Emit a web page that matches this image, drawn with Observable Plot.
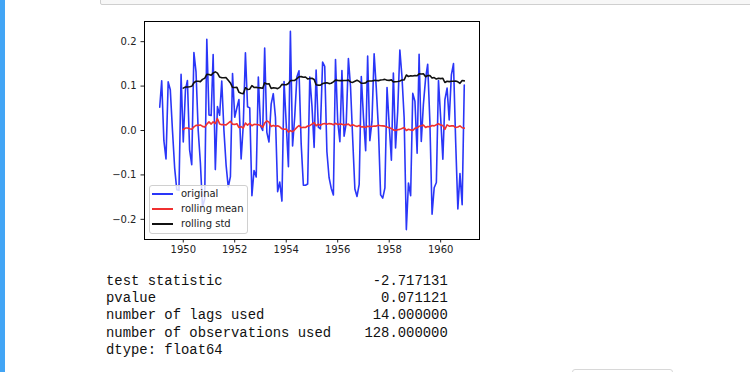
<!DOCTYPE html>
<html><head><meta charset="utf-8">
<script src="https://cdn.jsdelivr.net/npm/d3@7"></script>
<script src="https://cdn.jsdelivr.net/npm/@observablehq/plot@0.6"></script>
<style>
html,body{margin:0;padding:0;background:#fff;}
body{width:750px;height:372px;overflow:hidden;position:relative;font-family:"DejaVu Sans",sans-serif;}
#bar{position:absolute;left:0;top:0;width:5px;height:372px;background:#42a5f5;}
#prev{position:absolute;left:100px;top:-6px;width:670px;height:9px;background:#f7f7f7;border:1px solid #cfcfcf;border-radius:2px;}
#chart{position:absolute;left:0;top:0;}
#legend{position:absolute;left:149px;top:185px;width:97px;height:47px;border:1px solid #d0d0d0;border-radius:3px;background:rgba(255,255,255,0.8);}
.sw{position:absolute;left:2px;width:21px;height:2px;}
.lab{position:absolute;left:31px;height:12px;line-height:12px;font-size:10px;color:#222;white-space:nowrap;}
#out{position:absolute;left:106px;top:273px;margin:0;font:13.9px/17.2px "Liberation Mono",monospace;color:#111;}
#btn{position:absolute;left:572px;top:369px;width:99px;height:12px;border:1px solid #d8d8d8;border-radius:3px;background:#fff;}
</style></head>
<body>
<div id="bar"></div>
<div id="prev"></div>
<div id="chart"></div>
<div id="legend"></div>
<pre id="out"></pre>
<div id="btn"></div>
<script>
// First difference of log monthly airline passengers, Feb 1949 .. Dec 1960
const startYear = 1949, startMonth = 2;
const values = [
  0.0522, 0.1121, -0.0230, -0.0640, 0.1095, 0.0919, 0, -0.0846, -0.1335, -0.1347, 0.1263,
  -0.0257, 0.0914, 0.1125, -0.0435, -0.0770, 0.1756, 0.1319, 0, -0.0732, -0.1723, -0.1542, 0.2054,
  0.0351, 0.0339, 0.1712, -0.0880, 0.0537, 0.0343, 0.1115, 0, -0.0784, -0.1273, -0.1040, 0.1284,
  0.0297, 0.0513, 0.0697, -0.0642, 0.0110, 0.1750, 0.0536, 0.0509, -0.1466, -0.0901, -0.1048, 0.1204,
  0.0103, 0, 0.1857, -0.0042, -0.0259, 0.0593, 0.0829, 0.0299, -0.1377, -0.1162, -0.1589, 0.1104,
  0.0148, -0.0817, 0.2231, -0.0346, 0.0304, 0.1206, 0.1345, -0.0302, -0.1233, -0.1231, -0.1205, 0.1205,
  0.0552, -0.0379, 0.1362, 0.0075, 0.0037, 0.1542, 0.1446, -0.0478, -0.1063, -0.1299, -0.1451, 0.1596,
  0.0214, -0.0250, 0.1349, -0.0127, 0.0159, 0.1622, 0.0992, -0.0196, -0.1318, -0.1485, -0.1215, 0.1215,
  0.0290, -0.0455, 0.1678, -0.0227, 0.0199, 0.1729, 0.0970, 0.0043, -0.1449, -0.1521, -0.1290, 0.0968,
  0.0118, -0.0669, 0.1296, -0.0394, 0.0422, 0.1809, 0.1211, 0.0281, -0.2231, -0.1181, -0.1468, 0.0835,
  0.0660, -0.0513, 0.1715, -0.0249, 0.0588, 0.1167, 0.1493, 0.0199, -0.1884, -0.1289, -0.1172, 0.1122,
  0.0292, -0.0644, 0.0692, 0.0955, 0.0236, 0.1253, 0.1507, -0.0261, -0.1764, -0.0971, -0.1672, 0.1023
];
const windowSize = 12;
const seriesNames = ["original", "rolling mean", "rolling std"];
const seriesColors = ["#2a36f8", "#f03030", "#111111"];
const yTicks = [-0.2, -0.1, 0.0, 0.1, 0.2];
const xTickYears = [1950, 1952, 1954, 1956, 1958, 1960];
const statLabels = ["test statistic", "pvalue", "number of lags used", "number of observations used"];
const statValues = ["-2.717131", "0.071121", "14.000000", "128.000000"];
const dtypeLine = "dtype: float64";

const start = new Date(Date.UTC(startYear, startMonth - 1, 1));
const data = values.map((v, i) => ({date: d3.utcMonth.offset(start, i), value: v}));

const chart = Plot.plot({
  width: 750, height: 265,
  marginLeft: 144, marginRight: 271, marginTop: 21, marginBottom: 26,
  style: {fontFamily: "DejaVu Sans", fontSize: "10px", color: "#222", background: "transparent", overflow: "visible"},
  x: {type: "utc", domain: [new Date(Date.UTC(1948, 5, 30)), new Date(Date.UTC(1961, 6, 5))],
      ticks: xTickYears.map(y => new Date(Date.UTC(y, 0, 1))), tickFormat: d3.utcFormat("%Y"),
      tickSize: 3.5, tickPadding: 2.6, label: null},
  y: {domain: [-0.2454, 0.2454], ticks: yTicks, tickFormat: d3.format(".1f"),
      tickSize: 3.5, tickPadding: 4.5, label: null},
  marks: [
    Plot.line(data, {x: "date", y: "value", stroke: seriesColors[0], strokeWidth: 1.6}),
    Plot.line(data, Plot.windowY({k: windowSize, anchor: "end", reduce: "mean", strict: true},
      {x: "date", y: "value", stroke: seriesColors[1], strokeWidth: 1.6})),
    Plot.line(data, Plot.windowY({k: windowSize, anchor: "end", reduce: "deviation", strict: true},
      {x: "date", y: "value", stroke: seriesColors[2], strokeWidth: 1.6})),
    Plot.frame({stroke: "#000", strokeWidth: 1})
  ]
});
document.getElementById("chart").appendChild(chart);

// legend
const legend = document.getElementById("legend");
const rowCenters = [8, 23, 37.5];
seriesNames.forEach((name, i) => {
  const sw = document.createElement("div");
  sw.className = "sw";
  sw.style.top = Math.round(rowCenters[i] - 1) + "px";
  sw.style.background = seriesColors[i];
  legend.appendChild(sw);
  const lab = document.createElement("div");
  lab.className = "lab";
  lab.style.top = (rowCenters[i] - 6) + "px";
  lab.textContent = name;
  legend.appendChild(lab);
});

// text output
const labW = d3.max(statLabels, s => s.length);
const valW = d3.max(statValues, s => s.length) + 4;
const lines = statLabels.map((l, i) => l.padEnd(labW) + statValues[i].padStart(valW));
lines.push(dtypeLine);
document.getElementById("out").textContent = lines.join("\n");
</script>
</body></html>
